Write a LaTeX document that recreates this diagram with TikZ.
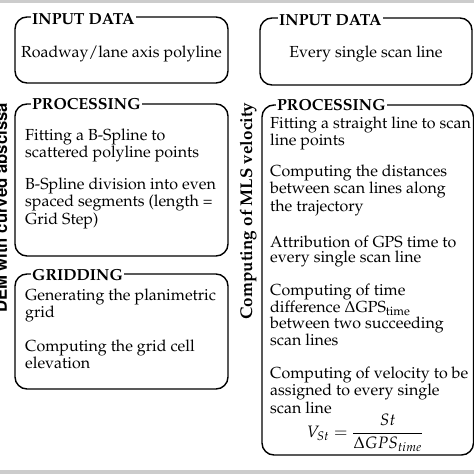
\documentclass[tikz,border=0pt]{standalone}
\usepackage[T1]{fontenc}
\usepackage{mathpazo}
\begin{document}
\begin{tikzpicture}[x=1pt,y=-1pt,
  box/.style={draw=black, line width=1.4pt, rounded corners=12pt},
  ttl/.style={fill=white, inner xsep=1.5pt, inner ysep=1pt, anchor=west, font=\fontsize{16}{16}\selectfont\bfseries},
  txt/.style={anchor=base west, align=left, inner sep=0pt, font=\fontsize{16}{15.5}\selectfont},
  ctxt/.style={anchor=base, inner sep=0pt, font=\fontsize{16}{15.5}\selectfont},
  side/.style={rotate=90, anchor=base, inner sep=0pt},
]
\useasboundingbox (0,0) rectangle (474,474);
\fill[white] (0,0) rectangle (474,474);
\fill[gray!40] (0,0) rectangle (474,3);
\fill[gray!40] (0,470) rectangle (474,474);

% side labels
\node[side, font=\fontsize{16.7}{16.7}\fontfamily{phv}\bfseries\selectfont] (dem) at (6.8,208) {DEM with curved abscissa};
\node[side, font=\fontsize{17}{17}\selectfont\bfseries] (mls) at (252,211) {Computing of MLS velocity};

% left column boxes
\draw[box] (15,17) rectangle (228,83);
\draw[box] (15,104) rectangle (228,256);
\draw[box] (15,274) rectangle (228,389);
% right column boxes
\draw[box] (260,18) rectangle (472,85);
\draw[box] (262,105) rectangle (473.5,455);

% titles
\node[ttl] (h1) at (30.5,19) {INPUT DATA};
\node[ttl] (h2) at (30.5,103.5) {PROCESSING};
\node[ttl] (h3) at (30.5,275) {GRIDDING};
\node[ttl] (h4) at (277.5,19.5) {INPUT DATA};
\node[ttl] (h5) at (275.5,104.5) {PROCESSING};

% left texts (anchor = baseline of last line)
\node[ctxt] (t1) at (121.5,57) {Roadway/lane axis polyline};
\node[txt] (t2) at (25,157.5) {Fitting a B-Spline to\\scattered polyline points};
\node[txt] (t3) at (25,224) {B-Spline division into even\\spaced segments (length =\\Grid Step)};
\node[txt] (t4) at (25,317.5) {Generating the planimetric\\grid};
\node[txt] (t5) at (25,368.5) {Computing the grid cell\\elevation};

% right texts
\node[ctxt] (r1) at (366,57) {Every single scan line};
\node[txt] (r2) at (270,145.5) {Fitting a straight line to scan\\line points};
\node[txt] (r3) at (270,211) {Computing the distances\\between scan lines along\\the trajectory};
\node[txt] (r4) at (270,262.5) {Attribution of GPS time to\\every single scan line};
\node[txt] (r5) at (270,345.5) {Computing of time\\difference $\Delta$GPS\textsubscript{time}\\between two succeeding\\scan lines};
\node[txt] (r6) at (270,413) {Computing of velocity to be\\assigned to every single\\scan line};
\node[inner sep=0pt, font=\fontsize{16.5}{16.5}\selectfont] (f) at (365,433) {$\displaystyle V_{St} = \frac{St}{\Delta GPS_{time}}$};
\end{tikzpicture}
\end{document}
